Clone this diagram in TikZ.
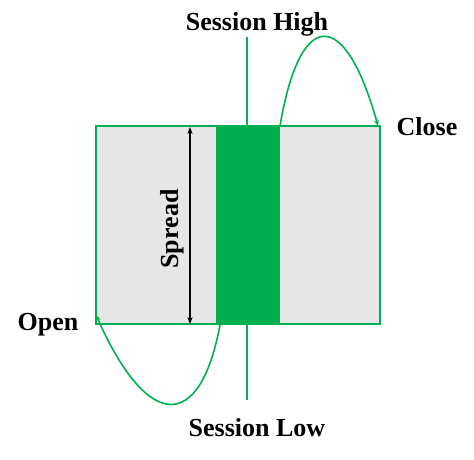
\documentclass[tikz,border=0pt]{standalone}
\usepackage{fontspec}
\setmainfont{Liberation Serif}
\usepackage{tikz}
\usetikzlibrary{arrows.meta}
\definecolor{candle}{RGB}{0,176,80}
\definecolor{bodygrey}{RGB}{230,230,230}

\begin{document}
\begin{tikzpicture}
  [x=1pt,y=-1pt,
   every node/.style={font=\fontsize{26}{30}\selectfont\bfseries, inner sep=0pt},
   path/.style={candle, line width=1.6pt, -{Stealth[length=6pt,width=5pt]}}]
  \useasboundingbox (0,0) rectangle (474,459);

  % price points
  \coordinate (open) at (96,315);
  \coordinate (close) at (378,126);
  \coordinate (hi) at (247,37);
  \coordinate (lo) at (247,400);

  % wick and body
  \draw[candle, line width=2.6pt] (hi) -- (lo);
  \draw[candle, line width=1.8pt, fill=bodygrey] (96,126) rectangle (380,324);
  \fill[candle] (216,126) rectangle (280,324);

  % how price moved
  \draw[path] (220,325) .. controls (200,432) and (148,432) .. (open);
  \draw[path] (280,126) .. controls (300,7) and (345,7) .. (close);

  \draw[{Stealth[length=7pt]}-{Stealth[length=7pt]}, line width=1.5pt] (190,127) -- (190,324);

  \node (high) at (257,24) {Session High};
  \node (low) at (257,428) {Session Low};
  \node (cl) at (427,127) {Close};
  \node (op) at (48,325) {Open};
  \node[rotate=90] (spread) at (172,229) {Spread};

\end{tikzpicture}
\end{document}
